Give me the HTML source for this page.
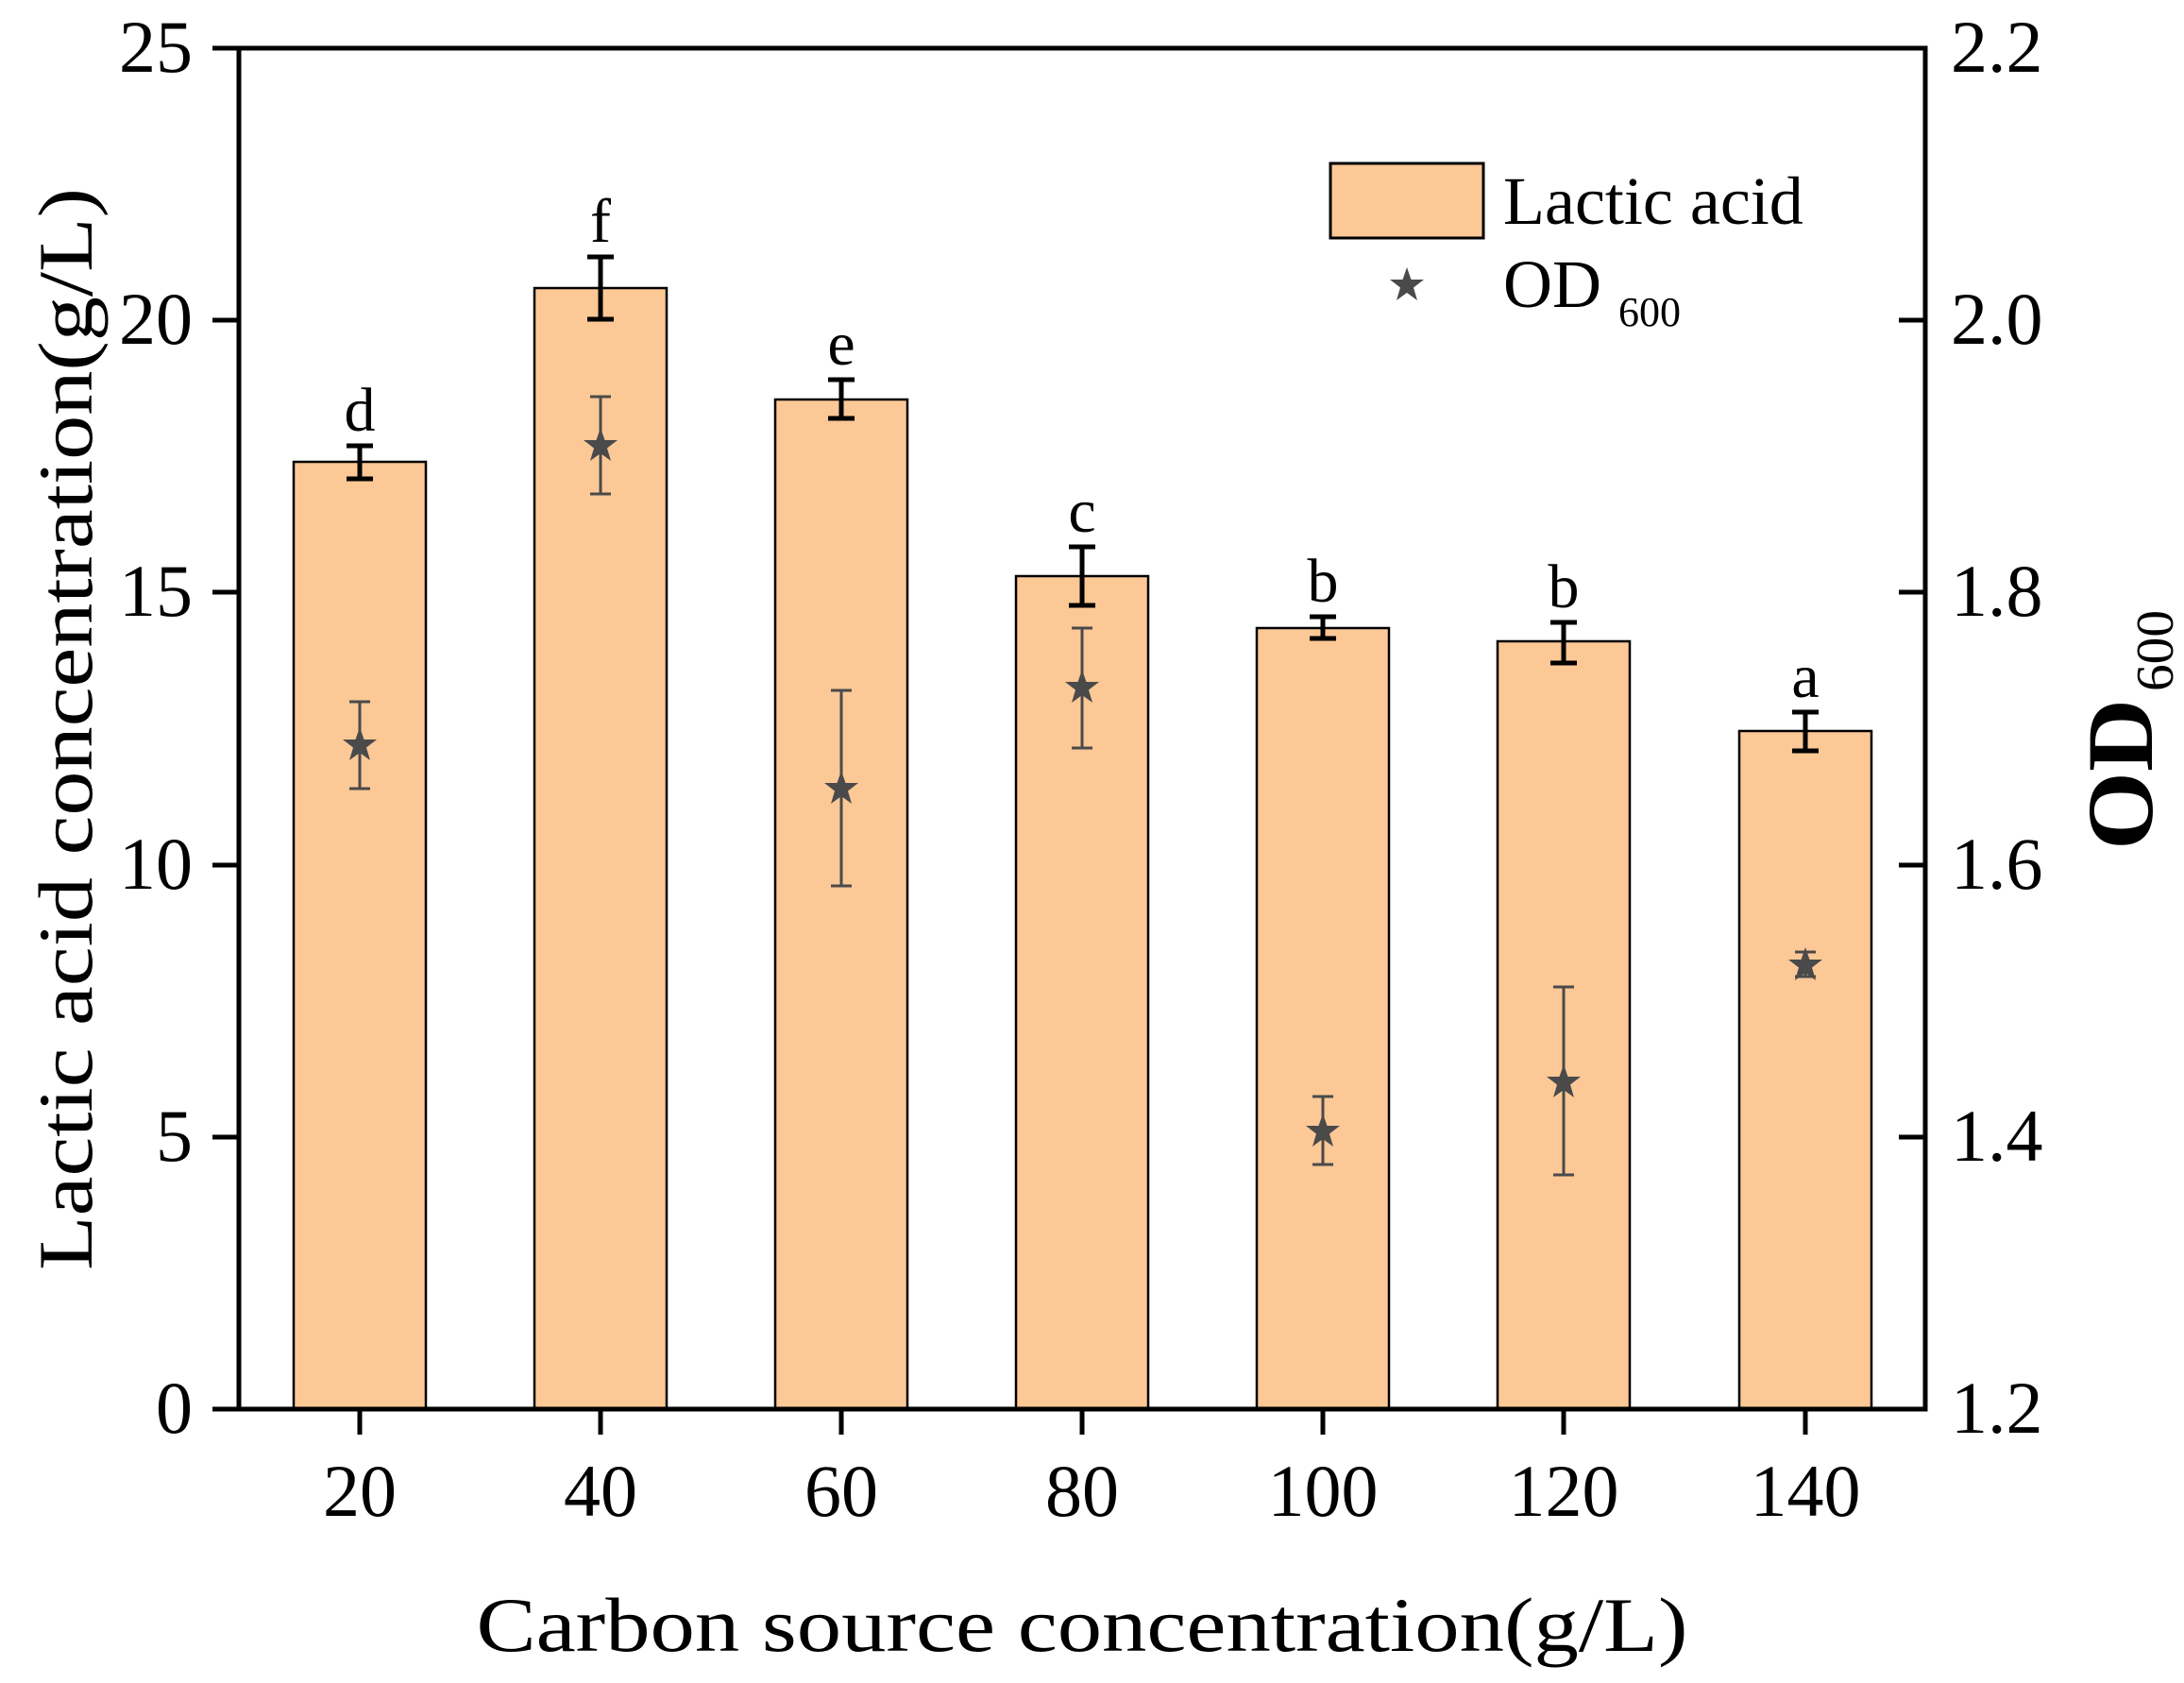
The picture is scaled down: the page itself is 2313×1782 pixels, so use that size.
<!DOCTYPE html>
<html><head><meta charset="utf-8"><style>html,body{margin:0;padding:0;background:#fff}svg{display:block}</style></head>
<body>
<svg width="2313" height="1782" viewBox="0 0 2313 1782" xmlns="http://www.w3.org/2000/svg" font-family="'Liberation Serif', serif">
<defs>
<path id="st" d="M0,-19 L4.5,-6 L18,-6 L7,2.5 L11,16 L0,8 L-11,16 L-7,2.5 L-18,-6 L-4.5,-6 Z" fill="#4a4a4a"/>
</defs>
<g stroke="#000" stroke-width="2.5" fill="#fcc896">
<rect x="311" y="489" width="140" height="1003"/>
<rect x="566" y="305" width="140" height="1187"/>
<rect x="821" y="423" width="140" height="1069"/>
<rect x="1076" y="610" width="140" height="882"/>
<rect x="1331" y="665" width="140" height="827"/>
<rect x="1586" y="679" width="140" height="813"/>
<rect x="1842" y="774" width="140" height="718"/>
</g>
<g stroke="#000" stroke-width="5" fill="none">
<path d="M381,472V507M367,472H395M367,507H395"/>
<path d="M636,272V338M622,272H650M622,338H650"/>
<path d="M891,402V443M877,402H905M877,443H905"/>
<path d="M1146,579V641M1132,579H1160M1132,641H1160"/>
<path d="M1401,653V676M1387,653H1415M1387,676H1415"/>
<path d="M1656,659V702M1642,659H1670M1642,702H1670"/>
<path d="M1912,754V795M1898,754H1926M1898,795H1926"/>
</g>
<g stroke="#4a4a4a" stroke-width="3" fill="none">
<path d="M381,743V835M370,743H392M370,835H392"/>
<path d="M636,420V523M625,420H647M625,523H647"/>
<path d="M891,731V938M880,731H902M880,938H902"/>
<path d="M1146,665V792M1135,665H1157M1135,792H1157"/>
<path d="M1401,1161V1233M1390,1161H1412M1390,1233H1412"/>
<path d="M1656,1045V1244M1645,1045H1667M1645,1244H1667"/>
<path d="M1912,1008V1034M1901,1008H1923M1901,1034H1923"/>
</g>
<use href="#st" x="381" y="789"/>
<use href="#st" x="636" y="472"/>
<use href="#st" x="891" y="835"/>
<use href="#st" x="1146" y="728"/>
<use href="#st" x="1401" y="1198"/>
<use href="#st" x="1656" y="1146"/>
<use href="#st" x="1912" y="1022"/>
<g font-size="66" text-anchor="middle" fill="#000">
<text x="381" y="456">d</text>
<text x="636" y="256">f</text>
<text x="891" y="386">e</text>
<text x="1146" y="563">c</text>
<text x="1401" y="637">b</text>
<text x="1656" y="643">b</text>
<text x="1912" y="738">a</text>
</g>
<g stroke="#000" stroke-width="5" fill="none">
<rect x="253" y="51" width="1786" height="1441"/>
<path d="M225,51H253M225,339H253M225,627H253M225,916H253M225,1204H253M225,1492H253"/>
<path d="M2011,51H2039M2011,339H2039M2011,627H2039M2011,916H2039M2011,1204H2039M2011,1492H2039"/>
<path d="M381,1492V1519M636,1492V1519M891,1492V1519M1146,1492V1519M1401,1492V1519M1656,1492V1519M1912,1492V1519"/>
</g>
<g font-size="78" fill="#000">
<g text-anchor="end">
<text x="204" y="76">25</text>
<text x="204" y="364">20</text>
<text x="204" y="652">15</text>
<text x="204" y="941">10</text>
<text x="204" y="1229">5</text>
<text x="204" y="1517">0</text>
</g>
<g text-anchor="start">
<text x="2066" y="76">2.2</text>
<text x="2066" y="364">2.0</text>
<text x="2066" y="652">1.8</text>
<text x="2066" y="941">1.6</text>
<text x="2066" y="1229">1.4</text>
<text x="2066" y="1517">1.2</text>
</g>
<g text-anchor="middle">
<text x="381" y="1605">20</text>
<text x="636" y="1605">40</text>
<text x="891" y="1605">60</text>
<text x="1146" y="1605">80</text>
<text x="1401" y="1605">100</text>
<text x="1656" y="1605">120</text>
<text x="1912" y="1605">140</text>
</g>
</g>
<text x="1146" y="1748" font-size="82" text-anchor="middle" textLength="1283" lengthAdjust="spacingAndGlyphs">Carbon source concentration(g/L)</text>
<text transform="translate(97,772) rotate(-90)" font-size="82" text-anchor="middle" textLength="1146" lengthAdjust="spacingAndGlyphs">Lactic acid concentration(g/L)</text>
<g transform="translate(2279,900) rotate(-90)">
<text x="0" y="0" font-size="100" font-weight="bold" textLength="160" lengthAdjust="spacingAndGlyphs">OD</text>
<text x="168" y="22" font-size="56" textLength="86" lengthAdjust="spacingAndGlyphs">600</text>
</g>
<rect x="1409" y="173" width="162" height="79" fill="#fcc896" stroke="#000" stroke-width="3"/>
<text x="1592" y="237" font-size="72">Lactic acid</text>
<use href="#st" x="1490" y="302"/>
<text x="1592" y="325" font-size="72">OD</text>
<text x="1714" y="345" font-size="44">600</text>
</svg>
</body></html>
